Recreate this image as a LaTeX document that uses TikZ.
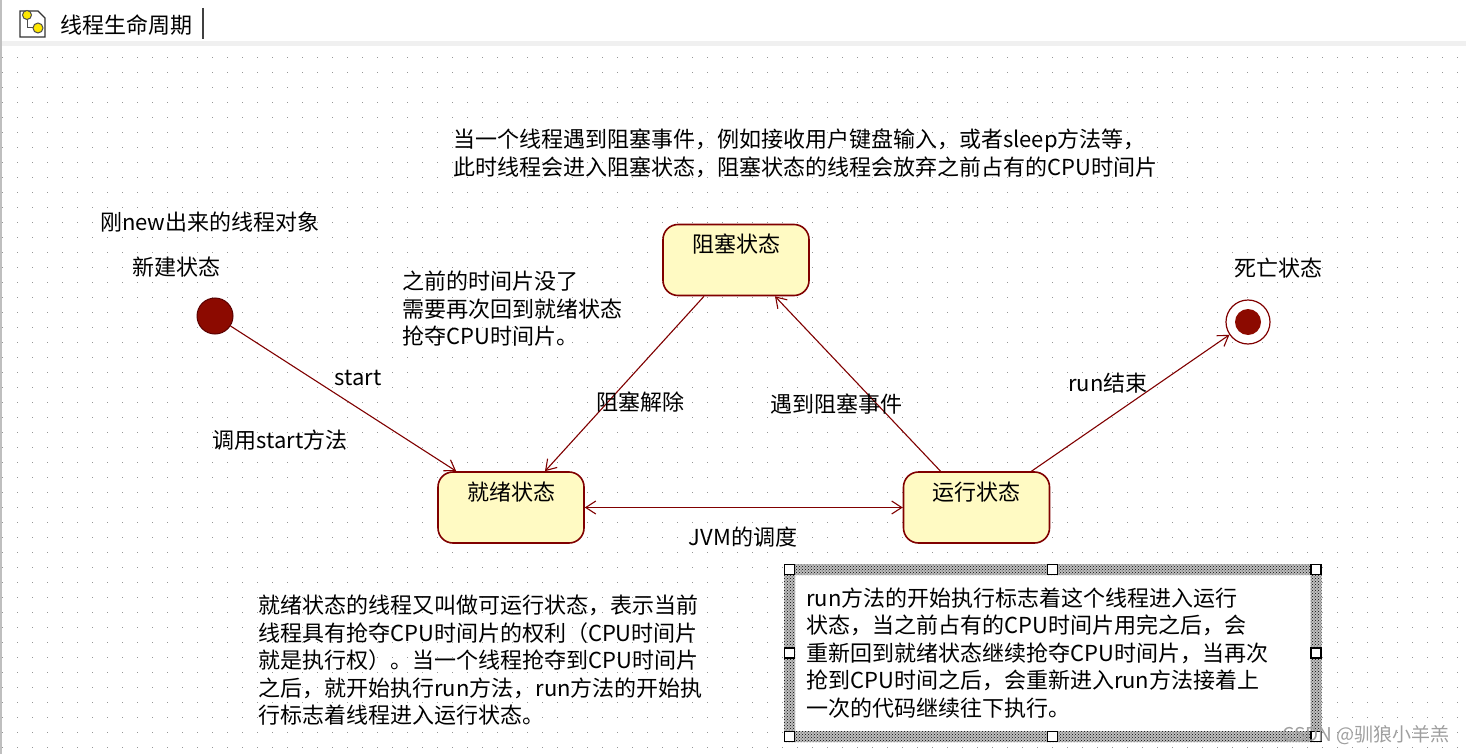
\documentclass[tikz,border=0pt]{standalone}
\usepackage{fontspec}
\setmainfont{Noto Sans CJK SC}
\usepackage{xcolor}
\usetikzlibrary{positioning, arrows.meta, patterns}

\definecolor{umlred}{RGB}{128,0,0}
\definecolor{initred}{RGB}{140,10,0}
\definecolor{stateyellow}{RGB}{255,250,195}
\definecolor{dotgray}{RGB}{150,150,150}

\begin{document}
\begin{tikzpicture}[x=1pt, y=-1pt, font=\fontsize{22}{27.5}\selectfont,
    >={Straight Barb[length=10pt,width=13pt]}]
    % Styles for the states and texts
    \tikzstyle{state box}=[rectangle, rounded corners=15pt, draw=umlred, line width=1.6pt, fill=stateyellow, minimum width=146pt, minimum height=71pt, text height=19pt, text depth=34pt, inner sep=0pt]
    \tikzstyle{initial dot}=[circle, fill=initred, draw=umlred!70!black, line width=1pt, minimum size=36pt, inner sep=0pt]
    \tikzstyle{final ring}=[circle, fill=white, draw=umlred, line width=1.2pt, minimum size=44pt, inner sep=0pt]
    \tikzstyle{transition}=[->, draw=umlred, line width=1.1pt]
    \tikzstyle{note}=[align=left, inner sep=0pt, anchor=north west]
    \tikzstyle{run box}=[rectangle, fill=white, outer sep=0pt, minimum width=526.5pt, minimum height=167pt, text width=493pt, inner xsep=16.5pt, align=left, anchor=north west]
    \tikzstyle{handle}=[draw=black, fill=white, line width=1.2pt]

    % Background, header and dot grid
    \useasboundingbox (0,0) rectangle (1466,754);
    \fill[white] (0,0) rectangle (1466,754);
    \fill[black!6] (0,41) rectangle (1466,46);
    \draw[black!25, line width=1.5pt] (1,0) -- (1,754);
    \foreach \i in {0,...,97}
        \foreach \j in {0,...,46}
            \fill[dotgray] (1.9+15*\i, 57.9+15*\j) rectangle ++(1.2pt,1.2pt);

    \draw[black!80, line width=1.2pt, fill=white] (20,11) -- (38,11) -- (45,18) -- (45,37) -- (20,37) -- cycle;
    \draw[black!70, line width=1pt] (27,15) -- (27,28) -- (38,28);
    \draw[black!70, fill=yellow!90!orange, line width=1pt] (27,15) circle (4.5pt);
    \draw[black!70, fill=yellow!90!orange, line width=1pt] (38,28) circle (5pt);
    \node[anchor=west, inner sep=0pt] (title) at (60,25) {线程生命周期};
    \draw[black!75, line width=2pt] (203,8) -- (203,39);

    % The states
    \node[initial dot] (new) at (215,316) {};
    \node (newlabel) at (176,267) {新建状态};
    \node[anchor=west, inner sep=0pt] (newnote) at (100,222) {刚new出来的线程对象};
    \node[state box] (blocked) at (736,260) {阻塞状态};
    \node[state box] (ready) at (511,507.5) {就绪状态};
    \node[state box] (running) at (976.5,507.5) {运行状态};
    \node[final ring] (dead) at (1248,322) {};
    \fill[initred] (dead.center) circle (13pt);
    \node (deadlabel) at (1278,268) {死亡状态};

    % The transitions
    \draw[transition] (new) -- ([xshift=19pt]ready.north west);
    \draw[transition] ([xshift=-32pt]blocked.south) -- ([xshift=34pt]ready.north);
    \draw[transition] ([xshift=-36pt]running.north) -- ([xshift=39pt]blocked.south);
    \draw[transition, <->] (ready) -- (running);
    \draw[transition] ([xshift=55pt]running.north) -- (dead);

    % Labels of the transitions
    \node (startlabel) at (358,378) {start};
    \node (startnote) at (280,440) {调用start方法};
    \node (unblocklabel) at (640,402) {阻塞解除};
    \node (blocklabel) at (836,404) {遇到阻塞事件};
    \node (jvmlabel) at (743,537) {JVM的调度};
    \node (endlabel) at (1108,383) {run结束};

    % Notes
    \node[note] (blocknote) at (453,129) {当一个线程遇到阻塞事件，例如接收用户键盘输入，或者sleep方法等，\\此时线程会进入阻塞状态，阻塞状态的线程会放弃之前占有的CPU时间片};
    \node[note] (slicenote) at (402,271) {之前的时间片没了\\需要再次回到就绪状态\\抢夺CPU时间片。};
    \node[note] (readynote) at (258,595) {就绪状态的线程又叫做可运行状态，表示当前\\线程具有抢夺CPU时间片的权利（CPU时间片\\就是执行权）。当一个线程抢夺到CPU时间片\\之后，就开始执行run方法，run方法的开始执\\行标志着线程进入运行状态。};

    % The selected text box with its dotted frame and handles
    \node[run box] (runnote) at (789.5,569.5) {run方法的开始执行标志着这个线程进入运行\\状态，当之前占有的CPU时间片用完之后，会\\重新回到就绪状态继续抢夺CPU时间片，当再次\\抢到CPU时间之后，会重新进入run方法接着上\\一次的代码继续往下执行。};
    \fill[black!25, even odd rule]
        ([xshift=-5.5pt, yshift=5.5pt]runnote.north west) rectangle ([xshift=5.5pt, yshift=-5.5pt]runnote.south east)
        ([xshift=5.5pt, yshift=-5.5pt]runnote.north west) rectangle ([xshift=-5.5pt, yshift=5.5pt]runnote.south east);
    \fill[pattern=crosshatch dots, pattern color=black, even odd rule]
        ([xshift=-5.5pt, yshift=5.5pt]runnote.north west) rectangle ([xshift=5.5pt, yshift=-5.5pt]runnote.south east)
        ([xshift=5.5pt, yshift=-5.5pt]runnote.north west) rectangle ([xshift=-5.5pt, yshift=5.5pt]runnote.south east);
    \foreach \a in {north west, north, north east, west, east, south west, south, south east}
        \draw[handle] ([xshift=-5pt, yshift=-5pt]runnote.\a) rectangle ++(10pt,10pt);

    \node[text=gray!75, font=\fontsize{19}{20}\selectfont] (watermark) at (1366,735) {CSDN @驯狼小羊羔};
\end{tikzpicture}
\end{document}
